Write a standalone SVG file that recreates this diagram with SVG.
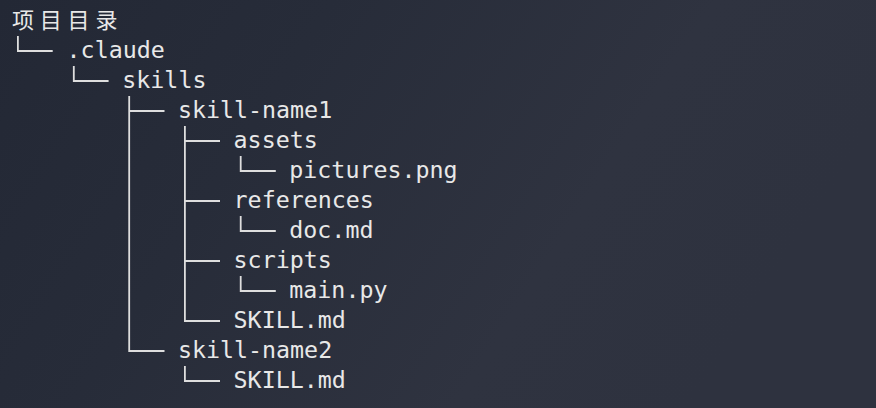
<svg xmlns="http://www.w3.org/2000/svg" width="876" height="408" viewBox="0 0 876 408">
  <defs>
    <linearGradient id="bg" x1="0" y1="0" x2="1" y2="0.3">
      <stop offset="0" stop-color="#232835"/>
      <stop offset="0.35" stop-color="#272c39"/>
      <stop offset="0.75" stop-color="#2f3340"/>
      <stop offset="1" stop-color="#2e323f"/>
    </linearGradient>
    <style>
      .t { font-family: "DejaVu Sans Mono", "Liberation Mono", monospace; font-size: 23.3px; fill: #e8e8e8; }
      .cjk { font-family: "Noto Sans CJK SC", "Noto Sans CJK JP", sans-serif; font-size: 22px; font-weight: 400; fill: #e8e8e8; }
      .ln { fill: none; stroke: #dedede; stroke-width: 1.8; }
    </style>
  </defs>
  <rect x="0" y="0" width="876" height="408" fill="url(#bg)"/>

  <g id="connectors">
    <path class="ln" d="M17.9 36 V51 H52.7"/>
    <path class="ln" d="M73.8 66 V81 H108.6"/>
    <path class="ln" d="M129.2 96 V351 H164.5"/>
    <path class="ln" d="M129.2 111 H164.5"/>
    <path class="ln" d="M184.9 126 V321 H220"/>
    <path class="ln" d="M184.9 141 H220"/>
    <path class="ln" d="M184.9 201 H220"/>
    <path class="ln" d="M184.9 261 H220"/>
    <path class="ln" d="M240.7 156 V171 H275.8"/>
    <path class="ln" d="M240.7 216 V231 H275.8"/>
    <path class="ln" d="M240.7 276 V291 H275.8"/>
    <path class="ln" d="M184.9 366 V381 H220"/>
  </g>

  <g id="root">
    <text class="cjk" y="28"><tspan x="11.9">项</tspan><tspan x="39.7">目</tspan><tspan x="67.6">目</tspan><tspan x="95.4">录</tspan></text>
  </g>
  <g id="claude"><text class="t" x="66.6" y="58">.claude</text></g>
  <g id="skills"><text class="t" x="122.3" y="88">skills</text></g>
  <g id="skill-name1"><text class="t" x="177.9" y="118">skill-name1</text></g>
  <g id="assets"><text class="t" x="233.6" y="148">assets</text></g>
  <g id="pictures"><text class="t" x="289.3" y="178">pictures.png</text></g>
  <g id="references"><text class="t" x="233.6" y="208">references</text></g>
  <g id="doc"><text class="t" x="289.3" y="238">doc.md</text></g>
  <g id="scripts"><text class="t" x="233.6" y="268">scripts</text></g>
  <g id="main"><text class="t" x="289.3" y="298">main.py</text></g>
  <g id="skill1-md"><text class="t" x="233.6" y="328">SKILL.md</text></g>
  <g id="skill-name2"><text class="t" x="177.9" y="358">skill-name2</text></g>
  <g id="skill2-md"><text class="t" x="233.6" y="388">SKILL.md</text></g>
</svg>
